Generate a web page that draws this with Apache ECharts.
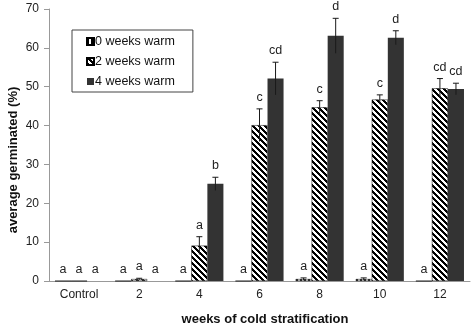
<!DOCTYPE html>
<html><head><meta charset="utf-8">
<script src="https://cdn.jsdelivr.net/npm/echarts@6/dist/echarts.min.js"></script>
<style>html,body{margin:0;padding:0;background:#fff}#c{width:474px;height:327px}</style>
</head><body><div id="c"></div>
<script>
const categories = ['Control','2','4','6','8','10','12'];
const seriesNames = ['0 weeks warm','2 weeks warm','4 weeks warm'];
const w0 = [0, 0, 0, 0, 0.5, 0.5, 0];
const w2 = [0, 0.5, 9.1, 40.1, 44.7, 46.7, 49.6];
const w4 = [0, 0, 25, 52.1, 63.1, 62.6, 49.4];
const w0err = [0, 0, 0, 0, 0.3, 0.3, 0];
const w2err = [0, 0.2, 2.3, 4.2, 1.7, 1.2, 2.5];
const w4err = [0, 0, 1.7, 4.2, 4.5, 1.8, 1.5];
const w0let = ['a','a','a','a','a','a','a'];
const w2let = ['a','a','a','c','c','c','cd'];
const w4let = ['a','a','b','cd','d','d','cd'];
const yTicks = {min: 0, max: 70, interval: 10};
const yTitle = 'average germinated (%)';
const xTitle = 'weeks of cold stratification';

function makePattern(w, h, fn) {
  const c = document.createElement('canvas'); c.width = w; c.height = h;
  const ctx = c.getContext('2d'); const img = ctx.createImageData(w, h);
  for (let y = 0; y < h; y++) for (let x = 0; x < w; x++) {
    const on = fn(x, y); const i = (y * w + x) * 4;
    const v = on ? 0 : 255;
    img.data[i] = v; img.data[i+1] = v; img.data[i+2] = v; img.data[i+3] = 255;
  }
  ctx.putImageData(img, 0, 0); return c;
}
const diag = makePattern(6, 6, (x, y) => (((x - y) % 6) + 6) % 6 < 3);
const vert = makePattern(4, 1, (x, y) => x < 2);

const vals = [w0, w2, w4], errs = [w0err, w2err, w4err], lets = [w0let, w2let, w4let];
const errData = [], errLetters = [];
for (let g = 0; g < 3; g++) for (let i = 0; i < categories.length; i++) {
  errData.push([i, vals[g][i], errs[g][i], g]);
  errLetters.push(lets[g][i]);
}
const font = 'Liberation Sans, Arial, sans-serif';

const chart = echarts.init(document.getElementById('c'));
chart.setOption({
  animation: false,
  textStyle: {fontFamily: font},
  grid: {left: 49, right: 4, top: 9, bottom: 46},
  legend: {
    data: seriesNames, orient: 'vertical', left: 72, top: 30, icon: 'rect',
    itemWidth: 7, itemHeight: 7, itemGap: 7,
    padding: [5, 18, 4, 14], borderColor: '#444', borderWidth: 1,
    textStyle: {fontSize: 12.5, color: '#111', fontFamily: font, padding: [0,0,0,-4]}
  },
  graphic: [
    {type: 'text', left: 'center', x: 0, style: {text: ''}},
    {type: 'text', position: [13, 160], rotation: Math.PI / 2,
     style: {text: yTitle, textAlign: 'center', textVerticalAlign: 'middle',
             font: 'bold 13px ' + font, fill: '#111'}},
    {type: 'text', position: [265, 319],
     style: {text: xTitle, textAlign: 'center', textVerticalAlign: 'middle',
             font: 'bold 13px ' + font, fill: '#111'}}
  ],
  xAxis: {
    type: 'category', data: categories,
    axisLine: {lineStyle: {color: '#999'}},
    axisTick: {length: 4, lineStyle: {color: '#999'}},
    axisLabel: {fontSize: 12, color: '#222', margin: 8}
  },
  yAxis: {
    type: 'value', min: yTicks.min, max: yTicks.max, interval: yTicks.interval,
    splitLine: {show: false},
    axisLine: {show: true, lineStyle: {color: '#999'}},
    axisTick: {show: true, length: 5, lineStyle: {color: '#999'}},
    axisLabel: {fontSize: 12, color: '#222', margin: 10}
  },
  series: [
    {name: seriesNames[0], type: 'bar', data: w0, barGap: '0%', barCategoryGap: '20%',
     itemStyle: {color: {image: vert, repeat: 'repeat'}, borderColor: '#000', borderWidth: 0.5}},
    {name: seriesNames[1], type: 'bar', data: w2, barGap: '0%', barCategoryGap: '20%',
     itemStyle: {color: {image: diag, repeat: 'repeat'}, borderColor: '#000', borderWidth: 0.5}},
    {name: seriesNames[2], type: 'bar', data: w4, barGap: '0%', barCategoryGap: '20%',
     itemStyle: {color: '#333'}},
    {type: 'custom', z: 10, data: errData, encode: {x: 0, y: 1}, clip: false,
     renderItem: function (params, api) {
       const idx = api.value(0), v = api.value(1), e = api.value(2), g = api.value(3);
       const band = api.size([1, 0])[0];
       const bw = band * 0.8 / 3;
       const c = api.coord([idx, v]);
       const x = c[0] + (g - 1) * bw;
       const top = api.coord([idx, v + e])[1];
       const bot = api.coord([idx, v - e])[1];
       const children = [];
       const st = {stroke: '#1a1a1a', lineWidth: 1};
       if (e > 0) {
         children.push({type: 'line', shape: {x1: x, y1: top, x2: x, y2: bot}, style: st});
         children.push({type: 'line', shape: {x1: x - 3, y1: top, x2: x + 3, y2: top}, style: st});
       }
       children.push({type: 'text', style: {text: errLetters[params.dataIndex], x: x, y: top - 5,
         textAlign: 'center', textVerticalAlign: 'bottom', fontSize: 12.5, fontFamily: font, fill: '#222'}});
       return {type: 'group', children: children};
     }}
  ]
});
</script></body></html>
